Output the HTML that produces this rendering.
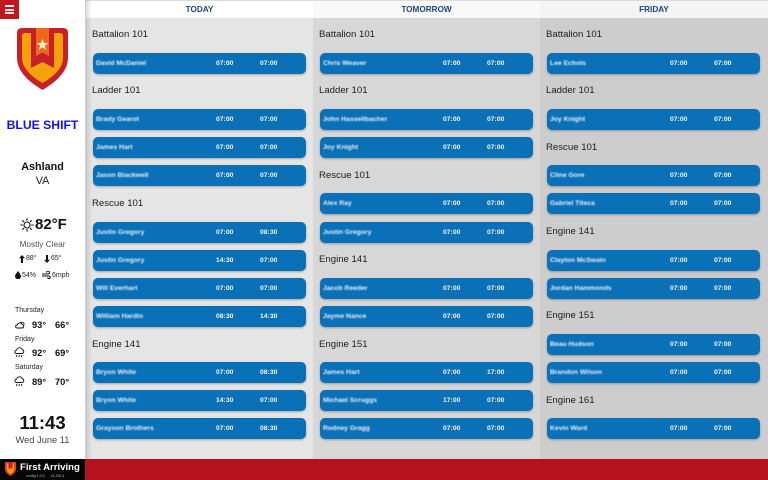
<!DOCTYPE html>
<html><head><meta charset="utf-8">
<style>
*{margin:0;padding:0;box-sizing:border-box}
body{width:768px;height:480px;overflow:hidden;position:relative;background:#fff;font-family:"Liberation Sans","DejaVu Sans",sans-serif;}
.abs{position:absolute}
.col{position:absolute;top:0;height:459px;overflow:hidden}
.hd{position:absolute;left:0;right:0;top:0;height:18px;line-height:18px;text-align:center;font-weight:bold;font-size:8.2px;color:#1a4785;border-top:1px solid #dcdcdc}
.sh{position:absolute;left:6px;height:12px;line-height:12px;font-size:9.6px;color:#1c1c1c;white-space:nowrap}
.cd{position:absolute;left:7px;width:213px;height:21px;border-radius:5px;background:#0a71b8;box-shadow:0 1px 2px rgba(0,0,0,.28);color:#f2f6fb;font-size:6.8px;font-weight:bold;line-height:21px;white-space:nowrap}
.cd .n{position:absolute;left:3px;filter:blur(0.6px);color:#e8f0f8}
.cd .a{position:absolute;left:123px}
.cd .b{position:absolute;left:167px}
.side{position:absolute;left:0;top:0;width:85px;height:459px;background:#fff}
.ctr{position:absolute;left:0;width:85px;text-align:center;white-space:nowrap}
</style></head><body>

<!-- Columns -->
<div class="col" style="left:86px;width:227px;background:#e5e5e5">
 <div class="hd" style="background:#fff">TODAY</div>
 <div class="sh" style="top:29px">Battalion 101</div>
 <div class="cd" style="top:53px"><span class="n">David McDaniel</span><span class="a">07:00</span><span class="b">07:00</span></div>
 <div class="sh" style="top:85px">Ladder 101</div>
 <div class="cd" style="top:109px"><span class="n">Brady Gearot</span><span class="a">07:00</span><span class="b">07:00</span></div>
 <div class="cd" style="top:137px"><span class="n">James Hart</span><span class="a">07:00</span><span class="b">07:00</span></div>
 <div class="cd" style="top:165px"><span class="n">Jason Blackwell</span><span class="a">07:00</span><span class="b">07:00</span></div>
 <div class="sh" style="top:198px">Rescue 101</div>
 <div class="cd" style="top:221.5px"><span class="n">Justin Gregory</span><span class="a">07:00</span><span class="b">08:30</span></div>
 <div class="cd" style="top:249.5px"><span class="n">Justin Gregory</span><span class="a">14:30</span><span class="b">07:00</span></div>
 <div class="cd" style="top:277.7px"><span class="n">Will Everhart</span><span class="a">07:00</span><span class="b">07:00</span></div>
 <div class="cd" style="top:305.8px"><span class="n">William Hardin</span><span class="a">08:30</span><span class="b">14:30</span></div>
 <div class="sh" style="top:338.5px">Engine 141</div>
 <div class="cd" style="top:362px"><span class="n">Bryon White</span><span class="a">07:00</span><span class="b">08:30</span></div>
 <div class="cd" style="top:390px"><span class="n">Bryon White</span><span class="a">14:30</span><span class="b">07:00</span></div>
 <div class="cd" style="top:418.3px"><span class="n">Grayson Brothers</span><span class="a">07:00</span><span class="b">08:30</span></div>
</div>

<div class="col" style="left:313px;width:227px;background:#d7d7d7">
 <div class="hd" style="background:#f9f9f9">TOMORROW</div>
 <div class="sh" style="top:29px">Battalion 101</div>
 <div class="cd" style="top:53px"><span class="n">Chris Weaver</span><span class="a">07:00</span><span class="b">07:00</span></div>
 <div class="sh" style="top:85px">Ladder 101</div>
 <div class="cd" style="top:109px"><span class="n">John Hassellbacher</span><span class="a">07:00</span><span class="b">07:00</span></div>
 <div class="cd" style="top:137px"><span class="n">Joy Knight</span><span class="a">07:00</span><span class="b">07:00</span></div>
 <div class="sh" style="top:169.7px">Rescue 101</div>
 <div class="cd" style="top:193px"><span class="n">Alex Ray</span><span class="a">07:00</span><span class="b">07:00</span></div>
 <div class="cd" style="top:221.5px"><span class="n">Justin Gregory</span><span class="a">07:00</span><span class="b">07:00</span></div>
 <div class="sh" style="top:254px">Engine 141</div>
 <div class="cd" style="top:277.7px"><span class="n">Jacob Reeder</span><span class="a">07:00</span><span class="b">07:00</span></div>
 <div class="cd" style="top:305.8px"><span class="n">Jayme Nance</span><span class="a">07:00</span><span class="b">07:00</span></div>
 <div class="sh" style="top:338.5px">Engine 151</div>
 <div class="cd" style="top:362px"><span class="n">James Hart</span><span class="a">07:00</span><span class="b">17:00</span></div>
 <div class="cd" style="top:390px"><span class="n">Michael Scruggs</span><span class="a">17:00</span><span class="b">07:00</span></div>
 <div class="cd" style="top:418.3px"><span class="n">Rodney Gragg</span><span class="a">07:00</span><span class="b">07:00</span></div>
</div>

<div class="col" style="left:540px;width:228px;background:#cdcdcd">
 <div class="hd" style="background:#f4f4f4">FRIDAY</div>
 <div class="sh" style="top:29px">Battalion 101</div>
 <div class="cd" style="top:53px"><span class="n">Lee Echols</span><span class="a">07:00</span><span class="b">07:00</span></div>
 <div class="sh" style="top:85px">Ladder 101</div>
 <div class="cd" style="top:109px"><span class="n">Joy Knight</span><span class="a">07:00</span><span class="b">07:00</span></div>
 <div class="sh" style="top:141.5px">Rescue 101</div>
 <div class="cd" style="top:165px"><span class="n">Cline Gore</span><span class="a">07:00</span><span class="b">07:00</span></div>
 <div class="cd" style="top:193px"><span class="n">Gabriel Titeca</span><span class="a">07:00</span><span class="b">07:00</span></div>
 <div class="sh" style="top:226px">Engine 141</div>
 <div class="cd" style="top:249.5px"><span class="n">Clayton McSwain</span><span class="a">07:00</span><span class="b">07:00</span></div>
 <div class="cd" style="top:277.7px"><span class="n">Jordan Hammonds</span><span class="a">07:00</span><span class="b">07:00</span></div>
 <div class="sh" style="top:310.3px">Engine 151</div>
 <div class="cd" style="top:334px"><span class="n">Beau Hudson</span><span class="a">07:00</span><span class="b">07:00</span></div>
 <div class="cd" style="top:362px"><span class="n">Brandon Wilson</span><span class="a">07:00</span><span class="b">07:00</span></div>
 <div class="sh" style="top:394.7px">Engine 161</div>
 <div class="cd" style="top:418.3px"><span class="n">Kevin Ward</span><span class="a">07:00</span><span class="b">07:00</span></div>
</div>

<!-- sidebar shadow -->
<div class="abs" style="left:85px;top:0;width:1px;height:459px;background:#cfcfcf"></div>
<div class="abs" style="left:86px;top:0;width:6px;height:459px;background:linear-gradient(to right,rgba(0,0,0,.13),rgba(0,0,0,0))"></div>

<!-- Sidebar -->
<div class="side">
 <div class="abs" style="left:0;top:0;width:19px;height:19px;background:#c0161e"></div>
 <div class="abs" style="left:5px;top:5px;width:9px;height:2px;background:#fff;opacity:.9"></div>
 <div class="abs" style="left:5px;top:8.5px;width:9px;height:2px;background:#fff;opacity:.9"></div>
 <div class="abs" style="left:5px;top:12px;width:9px;height:2px;background:#fff;opacity:.9"></div>

 <svg class="abs" style="left:17px;top:28px" width="51" height="62" viewBox="0 0 51 62">
  <path d="M5,0 H46 Q51,0 51,5 V30 Q51,47 25.5,62 Q0,47 0,30 V5 Q0,0 5,0 Z" fill="#c8202a"/>
  <path d="M8,5 H43 Q46,5 46,8 V30 Q46,43 25.5,55 Q5,43 5,30 V8 Q5,5 8,5 Z" fill="#f5a10a"/>
  <path d="M14,0 H37 V40 L25.5,34 L14,40 Z" fill="#c8202a"/>
  <path d="M19,0 H32 V28 L25.5,24.5 L19,28 Z" fill="#ea6a1a"/>
  <polygon points="25.5,10.5 27,15 31.5,15 27.8,17.7 29.2,22 25.5,19.4 21.8,22 23.2,17.7 19.5,15 24,15" fill="#fbe9c8"/>
 </svg>

 <div class="ctr" style="top:117px;height:17px;line-height:17px;font-size:12.2px;font-weight:bold;color:#1010ee">BLUE SHIFT</div>
 <div class="ctr" style="top:160px;height:14px;line-height:14px;font-size:10.8px;font-weight:bold;color:#111">Ashland</div>
 <div class="ctr" style="top:174px;height:14px;line-height:14px;font-size:10.8px;color:#222">VA</div>

 <svg class="abs" style="left:20px;top:218px" width="14" height="14" viewBox="0 0 14 14">
  <circle cx="7" cy="7" r="3" fill="none" stroke="#111" stroke-width="1.1"/>
  <g stroke="#111" stroke-width="1.1" stroke-linecap="round">
   <line x1="7" y1="0.8" x2="7" y2="2.4"/><line x1="7" y1="11.6" x2="7" y2="13.2"/>
   <line x1="0.8" y1="7" x2="2.4" y2="7"/><line x1="11.6" y1="7" x2="13.2" y2="7"/>
   <line x1="2.6" y1="2.6" x2="3.7" y2="3.7"/><line x1="10.3" y1="10.3" x2="11.4" y2="11.4"/>
   <line x1="11.4" y1="2.6" x2="10.3" y2="3.7"/><line x1="2.6" y1="11.4" x2="3.7" y2="10.3"/>
  </g>
 </svg>
 <div class="abs" style="left:35px;top:216px;height:18px;line-height:18px;font-size:15px;font-weight:bold;color:#111">82°F</div>
 <div class="ctr" style="top:238px;height:12px;line-height:12px;font-size:8.3px;color:#555">Mostly Clear</div>
 <svg class="abs" style="left:19px;top:254.5px" width="6" height="8" viewBox="0 0 6 8"><path d="M3,0 L6,3.2 H4 V8 H2 V3.2 H0Z" fill="#111"/></svg>
 <div class="abs" style="left:26px;top:254px;height:10px;line-height:10px;font-size:7px;color:#222">88°</div>
 <svg class="abs" style="left:44px;top:254.5px" width="6" height="8" viewBox="0 0 6 8"><path d="M3,8 L6,4.8 H4 V0 H2 V4.8 H0Z" fill="#111"/></svg>
 <div class="abs" style="left:51px;top:254px;height:10px;line-height:10px;font-size:7px;color:#222">65°</div>
 <svg class="abs" style="left:15px;top:271px" width="6" height="8" viewBox="0 0 6 8"><path d="M3,0 Q6,4 6,5.2 A3,3 0 0 1 0,5.2 Q0,4 3,0Z" fill="#111"/></svg>
 <div class="abs" style="left:22px;top:271px;height:10px;line-height:10px;font-size:7px;color:#222">54%</div>
 <svg class="abs" style="left:42px;top:271px" width="9" height="8" viewBox="0 0 9 8"><g fill="none" stroke="#111" stroke-width="1"><path d="M0,3 H6 A1.5,1.5 0 1 0 4.5,1.5"/><path d="M0,5 H7 A1.3,1.3 0 1 1 5.7,6.3"/></g></svg>
 <div class="abs" style="left:52px;top:271px;height:10px;line-height:10px;font-size:7px;color:#222">6mph</div>

 <div class="abs" style="left:15px;top:306px;height:10px;line-height:10px;font-size:7px;color:#222">Thursday</div>
 <svg class="abs" style="left:15px;top:320px" width="10" height="9" viewBox="0 0 10 9"><g fill="none" stroke="#111" stroke-width="0.9"><path d="M2,8 H7.5 A1.8,1.8 0 0 0 7.2,4.5 A2.6,2.6 0 0 0 2.3,5 A1.5,1.5 0 0 0 2,8Z"/><path d="M5,3 A2.5,2.5 0 0 1 9.3,4.5"/></g></svg>
 <div class="abs" style="left:32px;top:319px;height:12px;line-height:12px;font-size:9.3px;font-weight:bold;color:#111">93°</div>
 <div class="abs" style="left:55px;top:319px;height:12px;line-height:12px;font-size:9.3px;font-weight:bold;color:#111">66°</div>

 <div class="abs" style="left:15px;top:334.5px;height:10px;line-height:10px;font-size:7px;color:#222">Friday</div>
 <svg class="abs" style="left:14px;top:347px" width="11" height="11" viewBox="0 0 11 11"><g fill="none" stroke="#111" stroke-width="0.9"><path d="M2,6.5 H8.5 A2,2 0 0 0 8.3,2.7 A3,3 0 0 0 2.6,3.2 A1.7,1.7 0 0 0 2,6.5Z"/><path d="M3,8 L2.3,10 M5.5,8 L4.8,10 M8,8 L7.3,10"/></g></svg>
 <div class="abs" style="left:32px;top:347px;height:12px;line-height:12px;font-size:9.3px;font-weight:bold;color:#111">92°</div>
 <div class="abs" style="left:55px;top:347px;height:12px;line-height:12px;font-size:9.3px;font-weight:bold;color:#111">69°</div>

 <div class="abs" style="left:15px;top:363px;height:10px;line-height:10px;font-size:7px;color:#222">Saturday</div>
 <svg class="abs" style="left:14px;top:375.5px" width="11" height="11" viewBox="0 0 11 11"><g fill="none" stroke="#111" stroke-width="0.9"><path d="M2,6.5 H8.5 A2,2 0 0 0 8.3,2.7 A3,3 0 0 0 2.6,3.2 A1.7,1.7 0 0 0 2,6.5Z"/><path d="M3,8 L2.3,10 M5.5,8 L4.8,10 M8,8 L7.3,10"/></g></svg>
 <div class="abs" style="left:32px;top:375.5px;height:12px;line-height:12px;font-size:9.3px;font-weight:bold;color:#111">89°</div>
 <div class="abs" style="left:55px;top:375.5px;height:12px;line-height:12px;font-size:9.3px;font-weight:bold;color:#111">70°</div>

 <div class="ctr" style="top:411px;height:24px;line-height:24px;font-size:18.5px;font-weight:bold;color:#111">11:43</div>
 <div class="ctr" style="top:434px;height:13px;line-height:13px;font-size:9.3px;color:#444">Wed June 11</div>
</div>

<!-- Footer -->
<div class="abs" style="left:0;top:459px;width:768px;height:21px;background:#b5121b"></div>
<div class="abs" style="left:0;top:459px;width:85px;height:21px;background:#060606"></div>
<svg class="abs" style="left:5px;top:462px" width="11" height="14" viewBox="0 0 11 14">
 <path d="M1,0 H10 Q11,0 11,1 V7 Q11,11 5.5,14 Q0,11 0,7 V1 Q0,0 1,0Z" fill="#e8401c"/>
 <path d="M2,1.5 H9 V7 Q9,10 5.5,12 Q2,10 2,7Z" fill="#f5a10a"/>
 <path d="M3.5,0 H7.5 V7 L5.5,6 L3.5,7Z" fill="#c8202a"/>
</svg>
<div class="abs" style="left:20px;top:461px;height:13px;line-height:13px;font-size:9.6px;font-weight:bold;color:#fff;white-space:nowrap">First Arriving</div>
<div class="abs" style="left:26px;top:474px;height:5px;line-height:5px;font-size:3.6px;color:#bbb;white-space:nowrap">config 1.0.0 &nbsp;&nbsp;&nbsp;&nbsp; v3.130.4</div>

</body></html>
